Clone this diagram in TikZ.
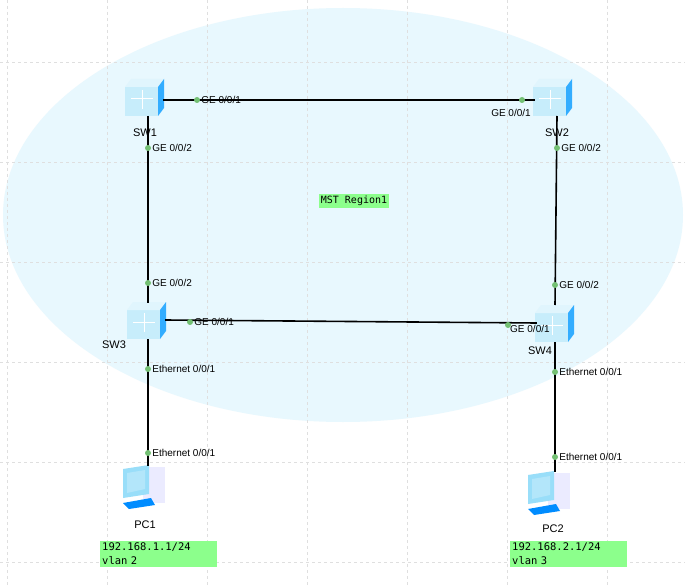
\documentclass[tikz,border=0pt]{standalone}
\usepackage{fontspec}
\setsansfont{Liberation Sans}
\setmonofont{DejaVu Sans Mono}
\begin{document}
\begin{tikzpicture}[x=1pt,y=-1pt,
  lbl/.style={font=\sffamily\fontsize{10}{11}\selectfont,inner sep=1pt},
  nm/.style={font=\sffamily\fontsize{11}{12}\selectfont,inner sep=1pt},
  dot/.style={circle,fill=green!55!black!55,draw=none,inner sep=0pt,minimum size=6pt},
  link/.style={black,line width=1.6pt},
  gbox/.style={fill=green!45,font=\ttfamily\fontsize{10.5}{14}\selectfont,align=left,inner sep=2pt,text width=113pt},
  sw/.style={minimum width=36pt,minimum height=36pt,inner sep=0pt}]
\useasboundingbox (0,0) rectangle (685,588);
\fill[white] (0,0) rectangle (685,588);
\fill[cyan!9] (343,215) ellipse [x radius=340, y radius=207];
\foreach \x in {7,107,207,307,407,507,607} \draw[gray!25,dashed] (\x,0)--(\x,588);
\foreach \y in {62,162,262,362,462,562} \draw[gray!25,dashed] (0,\y)--(685,\y);
% switch icons
\foreach \n/\x/\y in {s1/145/97,s2/553/97,s3/147/320,s4/555/323}{
  \node[sw] (\n) at (\x,\y) {};
  \fill[cyan!22] (\x-20,\y-10) rectangle (\x+13,\y+19);
  \fill[cyan!12] (\x-20,\y-10) -- (\x-14,\y-18) -- (\x+19,\y-18) -- (\x+13,\y-10) -- cycle;
  \fill[blue!40!cyan!80] (\x+13,\y-10) -- (\x+19,\y-18) -- (\x+19,\y+11) -- (\x+13,\y+19) -- cycle;
  \draw[white,line width=1pt] (\x-14,\y+2) -- (\x+8,\y+2) (\x-3,\y-7)--(\x-3,\y+12);
}
% PCs
\foreach \n/\x/\y in {p1/145/487,p2/550/493}{
  \node[sw] (\n) at (\x,\y) {};
  \fill[blue!8] (\x-2,\y-20) rectangle (\x+20,\y+16);
  \fill[cyan!40] (\x-22,\y-18) -- (\x+4,\y-22) -- (\x+4,\y+7) -- (\x-22,\y+11) -- cycle;
  \fill[white!70!cyan] (\x-18,\y-14) -- (\x,\y-17) -- (\x,\y+2) -- (\x-18,\y+6) -- cycle;
  \fill[blue!45!cyan] (\x-22,\y+16) -- (\x+6,\y+11) -- (\x+10,\y+18) -- (\x-16,\y+22) -- cycle;
}
\node[nm] at (145,133) {SW1};
\node[nm] at (557,133) {SW2};
\node[nm] at (114,345) {SW3};
\node[nm] at (540,351) {SW4};
\node[nm] at (145,525) {PC1};
\node[nm] at (553,529) {PC2};
% links
\draw[link] (s1.east |- 0,100) -- (s2.west |- 0,100);
\draw[link] (148,116) -- (148,303);
\draw[link] (557,116) -- (555,305);
\draw[link] (s3.east) -- (s4.west);
\draw[link] (148,339) -- (148,466);
\draw[link] (555,342) -- (555,472);
% ports
\node[dot] (d1) at (197,100) {}; \node[lbl,anchor=west] at (d1.east) {GE 0/0/1};
\node[dot] (d2) at (522,100) {}; \node[lbl] at (511,113) {GE 0/0/1};
\node[dot] (d3) at (148,148) {}; \node[lbl,anchor=west] at (d3.east) {GE 0/0/2};
\node[dot] (d4) at (557,148) {}; \node[lbl,anchor=west] at (d4.east) {GE 0/0/2};
\node[dot] (d5) at (148,283) {}; \node[lbl,anchor=west] at (d5.east) {GE 0/0/2};
\node[dot] (d6) at (555,285) {}; \node[lbl,anchor=west] at (d6.east) {GE 0/0/2};
\node[dot] (d7) at (190,322) {}; \node[lbl,anchor=west] at (d7.east) {GE 0/0/1};
\node[dot] (d8) at (508,325) {}; \node[lbl,anchor=west] at (509,329) {GE 0/0/1};
\node[dot] (d9) at (148,369) {}; \node[lbl,anchor=west] at (d9.east) {Ethernet 0/0/1};
\node[dot] (d10) at (555,372) {}; \node[lbl,anchor=west] at (d10.east) {Ethernet 0/0/1};
\node[dot] (d11) at (148,453) {}; \node[lbl,anchor=west] at (d11.east) {Ethernet 0/0/1};
\node[dot] (d12) at (555,457) {}; \node[lbl,anchor=west] at (d12.east) {Ethernet 0/0/1};
\node[fill=green!45,font=\ttfamily\fontsize{10}{12}\selectfont,inner sep=2pt] (mst) at (354,201) {MST Region1};
\node[gbox,anchor=north west] (ip1) at (100,541) {192.168.1.1/24\\vlan 2};
\node[gbox,anchor=north west] (ip2) at (510,541) {192.168.2.1/24\\vlan 3};
\end{tikzpicture}
\end{document}
